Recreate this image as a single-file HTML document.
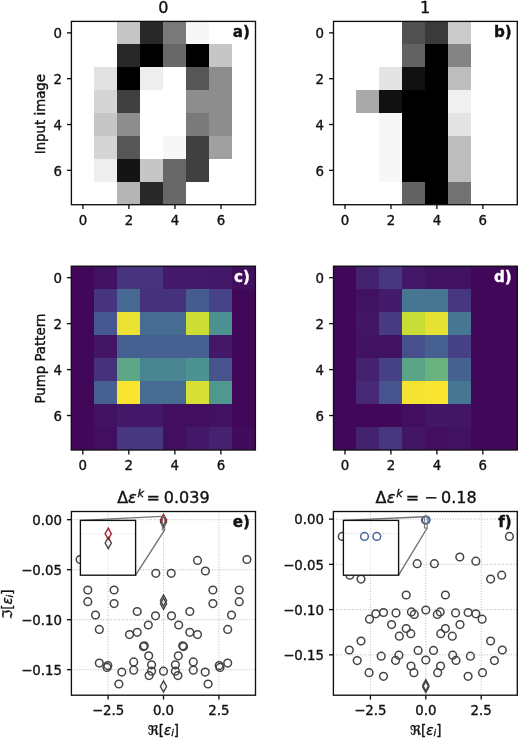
<!DOCTYPE html>
<html lang="en"><head><meta charset="utf-8"><title>Figure</title>
<style>html,body{margin:0;padding:0;background:#fff;}body{width:520px;height:738px;overflow:hidden;}svg{display:block;filter:blur(0.3px);}</style>
</head><body>
<svg width="520" height="738" viewBox="0 0 520 738" font-family='"DejaVu Sans", "Liberation Sans", sans-serif'>
<rect width="520" height="738" fill="#ffffff"/>
<g shape-rendering="crispEdges">
<rect x="71.40" y="21.40" width="23.31" height="23.21" fill="#ffffff"/>
<rect x="94.41" y="21.40" width="23.31" height="23.21" fill="#ffffff"/>
<rect x="117.43" y="21.40" width="23.31" height="23.21" fill="#c6c6c6"/>
<rect x="140.44" y="21.40" width="23.31" height="23.21" fill="#282828"/>
<rect x="163.45" y="21.40" width="23.31" height="23.21" fill="#7a7a7a"/>
<rect x="186.46" y="21.40" width="23.31" height="23.21" fill="#f7f7f7"/>
<rect x="209.47" y="21.40" width="23.31" height="23.21" fill="#ffffff"/>
<rect x="232.49" y="21.40" width="23.31" height="23.21" fill="#ffffff"/>
<rect x="71.40" y="44.31" width="23.31" height="23.21" fill="#ffffff"/>
<rect x="94.41" y="44.31" width="23.31" height="23.21" fill="#ffffff"/>
<rect x="117.43" y="44.31" width="23.31" height="23.21" fill="#282828"/>
<rect x="140.44" y="44.31" width="23.31" height="23.21" fill="#000000"/>
<rect x="163.45" y="44.31" width="23.31" height="23.21" fill="#686868"/>
<rect x="186.46" y="44.31" width="23.31" height="23.21" fill="#000000"/>
<rect x="209.47" y="44.31" width="23.31" height="23.21" fill="#c6c6c6"/>
<rect x="232.49" y="44.31" width="23.31" height="23.21" fill="#ffffff"/>
<rect x="71.40" y="67.22" width="23.31" height="23.21" fill="#ffffff"/>
<rect x="94.41" y="67.22" width="23.31" height="23.21" fill="#e2e2e2"/>
<rect x="117.43" y="67.22" width="23.31" height="23.21" fill="#000000"/>
<rect x="140.44" y="67.22" width="23.31" height="23.21" fill="#eeeeee"/>
<rect x="163.45" y="67.22" width="23.31" height="23.21" fill="#ffffff"/>
<rect x="186.46" y="67.22" width="23.31" height="23.21" fill="#565656"/>
<rect x="209.47" y="67.22" width="23.31" height="23.21" fill="#8d8d8d"/>
<rect x="232.49" y="67.22" width="23.31" height="23.21" fill="#ffffff"/>
<rect x="71.40" y="90.14" width="23.31" height="23.21" fill="#ffffff"/>
<rect x="94.41" y="90.14" width="23.31" height="23.21" fill="#d5d5d5"/>
<rect x="117.43" y="90.14" width="23.31" height="23.21" fill="#404040"/>
<rect x="140.44" y="90.14" width="23.31" height="23.21" fill="#ffffff"/>
<rect x="163.45" y="90.14" width="23.31" height="23.21" fill="#ffffff"/>
<rect x="186.46" y="90.14" width="23.31" height="23.21" fill="#8d8d8d"/>
<rect x="209.47" y="90.14" width="23.31" height="23.21" fill="#8d8d8d"/>
<rect x="232.49" y="90.14" width="23.31" height="23.21" fill="#ffffff"/>
<rect x="71.40" y="113.05" width="23.31" height="23.21" fill="#ffffff"/>
<rect x="94.41" y="113.05" width="23.31" height="23.21" fill="#c6c6c6"/>
<rect x="117.43" y="113.05" width="23.31" height="23.21" fill="#8d8d8d"/>
<rect x="140.44" y="113.05" width="23.31" height="23.21" fill="#ffffff"/>
<rect x="163.45" y="113.05" width="23.31" height="23.21" fill="#ffffff"/>
<rect x="186.46" y="113.05" width="23.31" height="23.21" fill="#7a7a7a"/>
<rect x="209.47" y="113.05" width="23.31" height="23.21" fill="#8d8d8d"/>
<rect x="232.49" y="113.05" width="23.31" height="23.21" fill="#ffffff"/>
<rect x="71.40" y="135.96" width="23.31" height="23.21" fill="#ffffff"/>
<rect x="94.41" y="135.96" width="23.31" height="23.21" fill="#d5d5d5"/>
<rect x="117.43" y="135.96" width="23.31" height="23.21" fill="#565656"/>
<rect x="140.44" y="135.96" width="23.31" height="23.21" fill="#ffffff"/>
<rect x="163.45" y="135.96" width="23.31" height="23.21" fill="#f7f7f7"/>
<rect x="186.46" y="135.96" width="23.31" height="23.21" fill="#404040"/>
<rect x="209.47" y="135.96" width="23.31" height="23.21" fill="#a0a0a0"/>
<rect x="232.49" y="135.96" width="23.31" height="23.21" fill="#ffffff"/>
<rect x="71.40" y="158.88" width="23.31" height="23.21" fill="#ffffff"/>
<rect x="94.41" y="158.88" width="23.31" height="23.21" fill="#eeeeee"/>
<rect x="117.43" y="158.88" width="23.31" height="23.21" fill="#141414"/>
<rect x="140.44" y="158.88" width="23.31" height="23.21" fill="#c6c6c6"/>
<rect x="163.45" y="158.88" width="23.31" height="23.21" fill="#686868"/>
<rect x="186.46" y="158.88" width="23.31" height="23.21" fill="#404040"/>
<rect x="209.47" y="158.88" width="23.31" height="23.21" fill="#ffffff"/>
<rect x="232.49" y="158.88" width="23.31" height="23.21" fill="#ffffff"/>
<rect x="71.40" y="181.79" width="23.31" height="23.21" fill="#ffffff"/>
<rect x="94.41" y="181.79" width="23.31" height="23.21" fill="#ffffff"/>
<rect x="117.43" y="181.79" width="23.31" height="23.21" fill="#b5b5b5"/>
<rect x="140.44" y="181.79" width="23.31" height="23.21" fill="#282828"/>
<rect x="163.45" y="181.79" width="23.31" height="23.21" fill="#686868"/>
<rect x="186.46" y="181.79" width="23.31" height="23.21" fill="#ffffff"/>
<rect x="209.47" y="181.79" width="23.31" height="23.21" fill="#ffffff"/>
<rect x="232.49" y="181.79" width="23.31" height="23.21" fill="#ffffff"/>
</g>
<rect x="71.40" y="21.40" width="184.10" height="183.30" fill="none" stroke="#111111" stroke-width="1.35"/>
<line x1="82.91" y1="204.70" x2="82.91" y2="209.10" stroke="#111111" stroke-width="1.35"/>
<text x="82.91" y="225.10" font-size="13.33" text-anchor="middle" font-weight="normal" fill="#111111" stroke="#111111" stroke-width="0.35" >0</text>
<line x1="71.40" y1="32.86" x2="67.00" y2="32.86" stroke="#111111" stroke-width="1.35"/>
<text x="62.00" y="38.16" font-size="13.33" text-anchor="end" font-weight="normal" fill="#111111" stroke="#111111" stroke-width="0.35" >0</text>
<line x1="128.93" y1="204.70" x2="128.93" y2="209.10" stroke="#111111" stroke-width="1.35"/>
<text x="128.93" y="225.10" font-size="13.33" text-anchor="middle" font-weight="normal" fill="#111111" stroke="#111111" stroke-width="0.35" >2</text>
<line x1="71.40" y1="78.68" x2="67.00" y2="78.68" stroke="#111111" stroke-width="1.35"/>
<text x="62.00" y="83.98" font-size="13.33" text-anchor="end" font-weight="normal" fill="#111111" stroke="#111111" stroke-width="0.35" >2</text>
<line x1="174.96" y1="204.70" x2="174.96" y2="209.10" stroke="#111111" stroke-width="1.35"/>
<text x="174.96" y="225.10" font-size="13.33" text-anchor="middle" font-weight="normal" fill="#111111" stroke="#111111" stroke-width="0.35" >4</text>
<line x1="71.40" y1="124.51" x2="67.00" y2="124.51" stroke="#111111" stroke-width="1.35"/>
<text x="62.00" y="129.81" font-size="13.33" text-anchor="end" font-weight="normal" fill="#111111" stroke="#111111" stroke-width="0.35" >4</text>
<line x1="220.98" y1="204.70" x2="220.98" y2="209.10" stroke="#111111" stroke-width="1.35"/>
<text x="220.98" y="225.10" font-size="13.33" text-anchor="middle" font-weight="normal" fill="#111111" stroke="#111111" stroke-width="0.35" >6</text>
<line x1="71.40" y1="170.33" x2="67.00" y2="170.33" stroke="#111111" stroke-width="1.35"/>
<text x="62.00" y="175.63" font-size="13.33" text-anchor="end" font-weight="normal" fill="#111111" stroke="#111111" stroke-width="0.35" >6</text>
<text x="250.00" y="37.30" font-size="15.2" text-anchor="end" font-weight="bold" fill="#111111" stroke="#111111" stroke-width="0.35" >a)</text>
<g shape-rendering="crispEdges">
<rect x="333.50" y="21.40" width="23.27" height="23.21" fill="#ffffff"/>
<rect x="356.48" y="21.40" width="23.27" height="23.21" fill="#ffffff"/>
<rect x="379.45" y="21.40" width="23.27" height="23.21" fill="#ffffff"/>
<rect x="402.42" y="21.40" width="23.27" height="23.21" fill="#515151"/>
<rect x="425.40" y="21.40" width="23.27" height="23.21" fill="#3a3a3a"/>
<rect x="448.38" y="21.40" width="23.27" height="23.21" fill="#cbcbcb"/>
<rect x="471.35" y="21.40" width="23.27" height="23.21" fill="#ffffff"/>
<rect x="494.32" y="21.40" width="23.27" height="23.21" fill="#ffffff"/>
<rect x="333.50" y="44.31" width="23.27" height="23.21" fill="#ffffff"/>
<rect x="356.48" y="44.31" width="23.27" height="23.21" fill="#ffffff"/>
<rect x="379.45" y="44.31" width="23.27" height="23.21" fill="#ffffff"/>
<rect x="402.42" y="44.31" width="23.27" height="23.21" fill="#626262"/>
<rect x="425.40" y="44.31" width="23.27" height="23.21" fill="#000000"/>
<rect x="448.38" y="44.31" width="23.27" height="23.21" fill="#848484"/>
<rect x="471.35" y="44.31" width="23.27" height="23.21" fill="#ffffff"/>
<rect x="494.32" y="44.31" width="23.27" height="23.21" fill="#ffffff"/>
<rect x="333.50" y="67.22" width="23.27" height="23.21" fill="#ffffff"/>
<rect x="356.48" y="67.22" width="23.27" height="23.21" fill="#ffffff"/>
<rect x="379.45" y="67.22" width="23.27" height="23.21" fill="#e4e4e4"/>
<rect x="402.42" y="67.22" width="23.27" height="23.21" fill="#111111"/>
<rect x="425.40" y="67.22" width="23.27" height="23.21" fill="#000000"/>
<rect x="448.38" y="67.22" width="23.27" height="23.21" fill="#bdbdbd"/>
<rect x="471.35" y="67.22" width="23.27" height="23.21" fill="#ffffff"/>
<rect x="494.32" y="67.22" width="23.27" height="23.21" fill="#ffffff"/>
<rect x="333.50" y="90.14" width="23.27" height="23.21" fill="#ffffff"/>
<rect x="356.48" y="90.14" width="23.27" height="23.21" fill="#a9a9a9"/>
<rect x="379.45" y="90.14" width="23.27" height="23.21" fill="#111111"/>
<rect x="402.42" y="90.14" width="23.27" height="23.21" fill="#000000"/>
<rect x="425.40" y="90.14" width="23.27" height="23.21" fill="#000000"/>
<rect x="448.38" y="90.14" width="23.27" height="23.21" fill="#f0f0f0"/>
<rect x="471.35" y="90.14" width="23.27" height="23.21" fill="#ffffff"/>
<rect x="494.32" y="90.14" width="23.27" height="23.21" fill="#ffffff"/>
<rect x="333.50" y="113.05" width="23.27" height="23.21" fill="#ffffff"/>
<rect x="356.48" y="113.05" width="23.27" height="23.21" fill="#ffffff"/>
<rect x="379.45" y="113.05" width="23.27" height="23.21" fill="#f7f7f7"/>
<rect x="402.42" y="113.05" width="23.27" height="23.21" fill="#000000"/>
<rect x="425.40" y="113.05" width="23.27" height="23.21" fill="#000000"/>
<rect x="448.38" y="113.05" width="23.27" height="23.21" fill="#e4e4e4"/>
<rect x="471.35" y="113.05" width="23.27" height="23.21" fill="#ffffff"/>
<rect x="494.32" y="113.05" width="23.27" height="23.21" fill="#ffffff"/>
<rect x="333.50" y="135.96" width="23.27" height="23.21" fill="#ffffff"/>
<rect x="356.48" y="135.96" width="23.27" height="23.21" fill="#ffffff"/>
<rect x="379.45" y="135.96" width="23.27" height="23.21" fill="#f7f7f7"/>
<rect x="402.42" y="135.96" width="23.27" height="23.21" fill="#000000"/>
<rect x="425.40" y="135.96" width="23.27" height="23.21" fill="#000000"/>
<rect x="448.38" y="135.96" width="23.27" height="23.21" fill="#bdbdbd"/>
<rect x="471.35" y="135.96" width="23.27" height="23.21" fill="#ffffff"/>
<rect x="494.32" y="135.96" width="23.27" height="23.21" fill="#ffffff"/>
<rect x="333.50" y="158.88" width="23.27" height="23.21" fill="#ffffff"/>
<rect x="356.48" y="158.88" width="23.27" height="23.21" fill="#ffffff"/>
<rect x="379.45" y="158.88" width="23.27" height="23.21" fill="#f7f7f7"/>
<rect x="402.42" y="158.88" width="23.27" height="23.21" fill="#000000"/>
<rect x="425.40" y="158.88" width="23.27" height="23.21" fill="#000000"/>
<rect x="448.38" y="158.88" width="23.27" height="23.21" fill="#bdbdbd"/>
<rect x="471.35" y="158.88" width="23.27" height="23.21" fill="#ffffff"/>
<rect x="494.32" y="158.88" width="23.27" height="23.21" fill="#ffffff"/>
<rect x="333.50" y="181.79" width="23.27" height="23.21" fill="#ffffff"/>
<rect x="356.48" y="181.79" width="23.27" height="23.21" fill="#ffffff"/>
<rect x="379.45" y="181.79" width="23.27" height="23.21" fill="#ffffff"/>
<rect x="402.42" y="181.79" width="23.27" height="23.21" fill="#626262"/>
<rect x="425.40" y="181.79" width="23.27" height="23.21" fill="#000000"/>
<rect x="448.38" y="181.79" width="23.27" height="23.21" fill="#727272"/>
<rect x="471.35" y="181.79" width="23.27" height="23.21" fill="#ffffff"/>
<rect x="494.32" y="181.79" width="23.27" height="23.21" fill="#ffffff"/>
</g>
<rect x="333.50" y="21.40" width="183.80" height="183.30" fill="none" stroke="#111111" stroke-width="1.35"/>
<line x1="344.99" y1="204.70" x2="344.99" y2="209.10" stroke="#111111" stroke-width="1.35"/>
<text x="344.99" y="225.10" font-size="13.33" text-anchor="middle" font-weight="normal" fill="#111111" stroke="#111111" stroke-width="0.35" >0</text>
<line x1="333.50" y1="32.86" x2="329.10" y2="32.86" stroke="#111111" stroke-width="1.35"/>
<text x="324.10" y="38.16" font-size="13.33" text-anchor="end" font-weight="normal" fill="#111111" stroke="#111111" stroke-width="0.35" >0</text>
<line x1="390.94" y1="204.70" x2="390.94" y2="209.10" stroke="#111111" stroke-width="1.35"/>
<text x="390.94" y="225.10" font-size="13.33" text-anchor="middle" font-weight="normal" fill="#111111" stroke="#111111" stroke-width="0.35" >2</text>
<line x1="333.50" y1="78.68" x2="329.10" y2="78.68" stroke="#111111" stroke-width="1.35"/>
<text x="324.10" y="83.98" font-size="13.33" text-anchor="end" font-weight="normal" fill="#111111" stroke="#111111" stroke-width="0.35" >2</text>
<line x1="436.89" y1="204.70" x2="436.89" y2="209.10" stroke="#111111" stroke-width="1.35"/>
<text x="436.89" y="225.10" font-size="13.33" text-anchor="middle" font-weight="normal" fill="#111111" stroke="#111111" stroke-width="0.35" >4</text>
<line x1="333.50" y1="124.51" x2="329.10" y2="124.51" stroke="#111111" stroke-width="1.35"/>
<text x="324.10" y="129.81" font-size="13.33" text-anchor="end" font-weight="normal" fill="#111111" stroke="#111111" stroke-width="0.35" >4</text>
<line x1="482.84" y1="204.70" x2="482.84" y2="209.10" stroke="#111111" stroke-width="1.35"/>
<text x="482.84" y="225.10" font-size="13.33" text-anchor="middle" font-weight="normal" fill="#111111" stroke="#111111" stroke-width="0.35" >6</text>
<line x1="333.50" y1="170.33" x2="329.10" y2="170.33" stroke="#111111" stroke-width="1.35"/>
<text x="324.10" y="175.63" font-size="13.33" text-anchor="end" font-weight="normal" fill="#111111" stroke="#111111" stroke-width="0.35" >6</text>
<text x="511.80" y="37.30" font-size="15.2" text-anchor="end" font-weight="bold" fill="#111111" stroke="#111111" stroke-width="0.35" >b)</text>
<text x="163.25" y="13.20" font-size="16.0" text-anchor="middle" font-weight="normal" fill="#111111" stroke="#111111" stroke-width="0.35" >0</text>
<text x="425.20" y="13.20" font-size="16.0" text-anchor="middle" font-weight="normal" fill="#111111" stroke="#111111" stroke-width="0.35" >1</text>
<text transform="translate(44.50,114.15) rotate(-90)" font-size="13.33" text-anchor="middle" fill="#111111" stroke="#111111" stroke-width="0.35">Input image</text>
<g shape-rendering="crispEdges">
<rect x="71.30" y="266.20" width="23.31" height="23.28" fill="#41085a"/>
<rect x="94.31" y="266.20" width="23.31" height="23.28" fill="#421262"/>
<rect x="117.33" y="266.20" width="23.31" height="23.28" fill="#46347e"/>
<rect x="140.34" y="266.20" width="23.31" height="23.28" fill="#46347e"/>
<rect x="163.35" y="266.20" width="23.31" height="23.28" fill="#441b6b"/>
<rect x="186.36" y="266.20" width="23.31" height="23.28" fill="#441b6b"/>
<rect x="209.38" y="266.20" width="23.31" height="23.28" fill="#441868"/>
<rect x="232.39" y="266.20" width="23.31" height="23.28" fill="#420e60"/>
<rect x="71.30" y="289.18" width="23.31" height="23.28" fill="#41085a"/>
<rect x="94.31" y="289.18" width="23.31" height="23.28" fill="#46347e"/>
<rect x="117.33" y="289.18" width="23.31" height="23.28" fill="#466a91"/>
<rect x="140.34" y="289.18" width="23.31" height="23.28" fill="#46317c"/>
<rect x="163.35" y="289.18" width="23.31" height="23.28" fill="#46317c"/>
<rect x="186.36" y="289.18" width="23.31" height="23.28" fill="#465b90"/>
<rect x="209.38" y="289.18" width="23.31" height="23.28" fill="#464388"/>
<rect x="232.39" y="289.18" width="23.31" height="23.28" fill="#41085a"/>
<rect x="71.30" y="312.15" width="23.31" height="23.28" fill="#41085a"/>
<rect x="94.31" y="312.15" width="23.31" height="23.28" fill="#46588f"/>
<rect x="117.33" y="312.15" width="23.31" height="23.28" fill="#ebe234"/>
<rect x="140.34" y="312.15" width="23.31" height="23.28" fill="#466c92"/>
<rect x="163.35" y="312.15" width="23.31" height="23.28" fill="#466c92"/>
<rect x="186.36" y="312.15" width="23.31" height="23.28" fill="#cddf37"/>
<rect x="209.38" y="312.15" width="23.31" height="23.28" fill="#4b9290"/>
<rect x="232.39" y="312.15" width="23.31" height="23.28" fill="#41085a"/>
<rect x="71.30" y="335.12" width="23.31" height="23.28" fill="#41085a"/>
<rect x="94.31" y="335.12" width="23.31" height="23.28" fill="#431565"/>
<rect x="117.33" y="335.12" width="23.31" height="23.28" fill="#466091"/>
<rect x="140.34" y="335.12" width="23.31" height="23.28" fill="#466091"/>
<rect x="163.35" y="335.12" width="23.31" height="23.28" fill="#466091"/>
<rect x="186.36" y="335.12" width="23.31" height="23.28" fill="#466091"/>
<rect x="209.38" y="335.12" width="23.31" height="23.28" fill="#441868"/>
<rect x="232.39" y="335.12" width="23.31" height="23.28" fill="#41085a"/>
<rect x="71.30" y="358.10" width="23.31" height="23.28" fill="#41085a"/>
<rect x="94.31" y="358.10" width="23.31" height="23.28" fill="#46317c"/>
<rect x="117.33" y="358.10" width="23.31" height="23.28" fill="#5da786"/>
<rect x="140.34" y="358.10" width="23.31" height="23.28" fill="#488591"/>
<rect x="163.35" y="358.10" width="23.31" height="23.28" fill="#488591"/>
<rect x="186.36" y="358.10" width="23.31" height="23.28" fill="#4b9290"/>
<rect x="209.38" y="358.10" width="23.31" height="23.28" fill="#46538d"/>
<rect x="232.39" y="358.10" width="23.31" height="23.28" fill="#41085a"/>
<rect x="71.30" y="381.07" width="23.31" height="23.28" fill="#41085a"/>
<rect x="94.31" y="381.07" width="23.31" height="23.28" fill="#466091"/>
<rect x="117.33" y="381.07" width="23.31" height="23.28" fill="#fae432"/>
<rect x="140.34" y="381.07" width="23.31" height="23.28" fill="#466c92"/>
<rect x="163.35" y="381.07" width="23.31" height="23.28" fill="#466c92"/>
<rect x="186.36" y="381.07" width="23.31" height="23.28" fill="#d7e036"/>
<rect x="209.38" y="381.07" width="23.31" height="23.28" fill="#50978e"/>
<rect x="232.39" y="381.07" width="23.31" height="23.28" fill="#41085a"/>
<rect x="71.30" y="404.05" width="23.31" height="23.28" fill="#41085a"/>
<rect x="94.31" y="404.05" width="23.31" height="23.28" fill="#421262"/>
<rect x="117.33" y="404.05" width="23.31" height="23.28" fill="#441868"/>
<rect x="140.34" y="404.05" width="23.31" height="23.28" fill="#441868"/>
<rect x="163.35" y="404.05" width="23.31" height="23.28" fill="#420e60"/>
<rect x="186.36" y="404.05" width="23.31" height="23.28" fill="#420e60"/>
<rect x="209.38" y="404.05" width="23.31" height="23.28" fill="#421262"/>
<rect x="232.39" y="404.05" width="23.31" height="23.28" fill="#41085a"/>
<rect x="71.30" y="427.02" width="23.31" height="23.28" fill="#41085a"/>
<rect x="94.31" y="427.02" width="23.31" height="23.28" fill="#420e60"/>
<rect x="117.33" y="427.02" width="23.31" height="23.28" fill="#463780"/>
<rect x="140.34" y="427.02" width="23.31" height="23.28" fill="#463780"/>
<rect x="163.35" y="427.02" width="23.31" height="23.28" fill="#420e60"/>
<rect x="186.36" y="427.02" width="23.31" height="23.28" fill="#441868"/>
<rect x="209.38" y="427.02" width="23.31" height="23.28" fill="#452270"/>
<rect x="232.39" y="427.02" width="23.31" height="23.28" fill="#420b5d"/>
</g>
<rect x="71.30" y="266.20" width="184.10" height="183.80" fill="none" stroke="#111111" stroke-width="1.35"/>
<line x1="82.81" y1="450.00" x2="82.81" y2="454.40" stroke="#111111" stroke-width="1.35"/>
<text x="82.81" y="470.10" font-size="13.33" text-anchor="middle" font-weight="normal" fill="#111111" stroke="#111111" stroke-width="0.35" >0</text>
<line x1="71.30" y1="277.69" x2="66.90" y2="277.69" stroke="#111111" stroke-width="1.35"/>
<text x="61.90" y="282.99" font-size="13.33" text-anchor="end" font-weight="normal" fill="#111111" stroke="#111111" stroke-width="0.35" >0</text>
<line x1="128.83" y1="450.00" x2="128.83" y2="454.40" stroke="#111111" stroke-width="1.35"/>
<text x="128.83" y="470.10" font-size="13.33" text-anchor="middle" font-weight="normal" fill="#111111" stroke="#111111" stroke-width="0.35" >2</text>
<line x1="71.30" y1="323.64" x2="66.90" y2="323.64" stroke="#111111" stroke-width="1.35"/>
<text x="61.90" y="328.94" font-size="13.33" text-anchor="end" font-weight="normal" fill="#111111" stroke="#111111" stroke-width="0.35" >2</text>
<line x1="174.86" y1="450.00" x2="174.86" y2="454.40" stroke="#111111" stroke-width="1.35"/>
<text x="174.86" y="470.10" font-size="13.33" text-anchor="middle" font-weight="normal" fill="#111111" stroke="#111111" stroke-width="0.35" >4</text>
<line x1="71.30" y1="369.59" x2="66.90" y2="369.59" stroke="#111111" stroke-width="1.35"/>
<text x="61.90" y="374.89" font-size="13.33" text-anchor="end" font-weight="normal" fill="#111111" stroke="#111111" stroke-width="0.35" >4</text>
<line x1="220.88" y1="450.00" x2="220.88" y2="454.40" stroke="#111111" stroke-width="1.35"/>
<text x="220.88" y="470.10" font-size="13.33" text-anchor="middle" font-weight="normal" fill="#111111" stroke="#111111" stroke-width="0.35" >6</text>
<line x1="71.30" y1="415.54" x2="66.90" y2="415.54" stroke="#111111" stroke-width="1.35"/>
<text x="61.90" y="420.84" font-size="13.33" text-anchor="end" font-weight="normal" fill="#111111" stroke="#111111" stroke-width="0.35" >6</text>
<text x="249.90" y="282.10" font-size="15.2" text-anchor="end" font-weight="bold" fill="#ffffff" stroke="#ffffff" stroke-width="0.35" >c)</text>
<g shape-rendering="crispEdges">
<rect x="333.50" y="266.20" width="23.27" height="23.28" fill="#41085a"/>
<rect x="356.48" y="266.20" width="23.27" height="23.28" fill="#452270"/>
<rect x="379.45" y="266.20" width="23.27" height="23.28" fill="#463780"/>
<rect x="402.42" y="266.20" width="23.27" height="23.28" fill="#441868"/>
<rect x="425.40" y="266.20" width="23.27" height="23.28" fill="#421262"/>
<rect x="448.38" y="266.20" width="23.27" height="23.28" fill="#421262"/>
<rect x="471.35" y="266.20" width="23.27" height="23.28" fill="#41085a"/>
<rect x="494.32" y="266.20" width="23.27" height="23.28" fill="#41085a"/>
<rect x="333.50" y="289.18" width="23.27" height="23.28" fill="#41085a"/>
<rect x="356.48" y="289.18" width="23.27" height="23.28" fill="#421262"/>
<rect x="379.45" y="289.18" width="23.27" height="23.28" fill="#441b6b"/>
<rect x="402.42" y="289.18" width="23.27" height="23.28" fill="#467692"/>
<rect x="425.40" y="289.18" width="23.27" height="23.28" fill="#467692"/>
<rect x="448.38" y="289.18" width="23.27" height="23.28" fill="#463780"/>
<rect x="471.35" y="289.18" width="23.27" height="23.28" fill="#41085a"/>
<rect x="494.32" y="289.18" width="23.27" height="23.28" fill="#41085a"/>
<rect x="333.50" y="312.15" width="23.27" height="23.28" fill="#41085a"/>
<rect x="356.48" y="312.15" width="23.27" height="23.28" fill="#431565"/>
<rect x="379.45" y="312.15" width="23.27" height="23.28" fill="#463a82"/>
<rect x="402.42" y="312.15" width="23.27" height="23.28" fill="#c8de37"/>
<rect x="425.40" y="312.15" width="23.27" height="23.28" fill="#e6e234"/>
<rect x="448.38" y="312.15" width="23.27" height="23.28" fill="#467692"/>
<rect x="471.35" y="312.15" width="23.27" height="23.28" fill="#41085a"/>
<rect x="494.32" y="312.15" width="23.27" height="23.28" fill="#41085a"/>
<rect x="333.50" y="335.12" width="23.27" height="23.28" fill="#41085a"/>
<rect x="356.48" y="335.12" width="23.27" height="23.28" fill="#421262"/>
<rect x="379.45" y="335.12" width="23.27" height="23.28" fill="#421262"/>
<rect x="402.42" y="335.12" width="23.27" height="23.28" fill="#46508d"/>
<rect x="425.40" y="335.12" width="23.27" height="23.28" fill="#466091"/>
<rect x="448.38" y="335.12" width="23.27" height="23.28" fill="#464086"/>
<rect x="471.35" y="335.12" width="23.27" height="23.28" fill="#41085a"/>
<rect x="494.32" y="335.12" width="23.27" height="23.28" fill="#41085a"/>
<rect x="333.50" y="358.10" width="23.27" height="23.28" fill="#41085a"/>
<rect x="356.48" y="358.10" width="23.27" height="23.28" fill="#452270"/>
<rect x="379.45" y="358.10" width="23.27" height="23.28" fill="#464086"/>
<rect x="402.42" y="358.10" width="23.27" height="23.28" fill="#5ba488"/>
<rect x="425.40" y="358.10" width="23.27" height="23.28" fill="#69b27f"/>
<rect x="448.38" y="358.10" width="23.27" height="23.28" fill="#466291"/>
<rect x="471.35" y="358.10" width="23.27" height="23.28" fill="#41085a"/>
<rect x="494.32" y="358.10" width="23.27" height="23.28" fill="#41085a"/>
<rect x="333.50" y="381.07" width="23.27" height="23.28" fill="#41085a"/>
<rect x="356.48" y="381.07" width="23.27" height="23.28" fill="#462876"/>
<rect x="379.45" y="381.07" width="23.27" height="23.28" fill="#46538d"/>
<rect x="402.42" y="381.07" width="23.27" height="23.28" fill="#f5e332"/>
<rect x="425.40" y="381.07" width="23.27" height="23.28" fill="#fae432"/>
<rect x="448.38" y="381.07" width="23.27" height="23.28" fill="#467692"/>
<rect x="471.35" y="381.07" width="23.27" height="23.28" fill="#41085a"/>
<rect x="494.32" y="381.07" width="23.27" height="23.28" fill="#41085a"/>
<rect x="333.50" y="404.05" width="23.27" height="23.28" fill="#41085a"/>
<rect x="356.48" y="404.05" width="23.27" height="23.28" fill="#41085a"/>
<rect x="379.45" y="404.05" width="23.27" height="23.28" fill="#41085a"/>
<rect x="402.42" y="404.05" width="23.27" height="23.28" fill="#420e60"/>
<rect x="425.40" y="404.05" width="23.27" height="23.28" fill="#431565"/>
<rect x="448.38" y="404.05" width="23.27" height="23.28" fill="#431565"/>
<rect x="471.35" y="404.05" width="23.27" height="23.28" fill="#41085a"/>
<rect x="494.32" y="404.05" width="23.27" height="23.28" fill="#41085a"/>
<rect x="333.50" y="427.02" width="23.27" height="23.28" fill="#41085a"/>
<rect x="356.48" y="427.02" width="23.27" height="23.28" fill="#452270"/>
<rect x="379.45" y="427.02" width="23.27" height="23.28" fill="#463780"/>
<rect x="402.42" y="427.02" width="23.27" height="23.28" fill="#431565"/>
<rect x="425.40" y="427.02" width="23.27" height="23.28" fill="#420e60"/>
<rect x="448.38" y="427.02" width="23.27" height="23.28" fill="#421262"/>
<rect x="471.35" y="427.02" width="23.27" height="23.28" fill="#41085a"/>
<rect x="494.32" y="427.02" width="23.27" height="23.28" fill="#41085a"/>
</g>
<rect x="333.50" y="266.20" width="183.80" height="183.80" fill="none" stroke="#111111" stroke-width="1.35"/>
<line x1="344.99" y1="450.00" x2="344.99" y2="454.40" stroke="#111111" stroke-width="1.35"/>
<text x="344.99" y="470.10" font-size="13.33" text-anchor="middle" font-weight="normal" fill="#111111" stroke="#111111" stroke-width="0.35" >0</text>
<line x1="333.50" y1="277.69" x2="329.10" y2="277.69" stroke="#111111" stroke-width="1.35"/>
<text x="324.10" y="282.99" font-size="13.33" text-anchor="end" font-weight="normal" fill="#111111" stroke="#111111" stroke-width="0.35" >0</text>
<line x1="390.94" y1="450.00" x2="390.94" y2="454.40" stroke="#111111" stroke-width="1.35"/>
<text x="390.94" y="470.10" font-size="13.33" text-anchor="middle" font-weight="normal" fill="#111111" stroke="#111111" stroke-width="0.35" >2</text>
<line x1="333.50" y1="323.64" x2="329.10" y2="323.64" stroke="#111111" stroke-width="1.35"/>
<text x="324.10" y="328.94" font-size="13.33" text-anchor="end" font-weight="normal" fill="#111111" stroke="#111111" stroke-width="0.35" >2</text>
<line x1="436.89" y1="450.00" x2="436.89" y2="454.40" stroke="#111111" stroke-width="1.35"/>
<text x="436.89" y="470.10" font-size="13.33" text-anchor="middle" font-weight="normal" fill="#111111" stroke="#111111" stroke-width="0.35" >4</text>
<line x1="333.50" y1="369.59" x2="329.10" y2="369.59" stroke="#111111" stroke-width="1.35"/>
<text x="324.10" y="374.89" font-size="13.33" text-anchor="end" font-weight="normal" fill="#111111" stroke="#111111" stroke-width="0.35" >4</text>
<line x1="482.84" y1="450.00" x2="482.84" y2="454.40" stroke="#111111" stroke-width="1.35"/>
<text x="482.84" y="470.10" font-size="13.33" text-anchor="middle" font-weight="normal" fill="#111111" stroke="#111111" stroke-width="0.35" >6</text>
<line x1="333.50" y1="415.54" x2="329.10" y2="415.54" stroke="#111111" stroke-width="1.35"/>
<text x="324.10" y="420.84" font-size="13.33" text-anchor="end" font-weight="normal" fill="#111111" stroke="#111111" stroke-width="0.35" >6</text>
<text x="511.80" y="282.10" font-size="15.2" text-anchor="end" font-weight="bold" fill="#ffffff" stroke="#ffffff" stroke-width="0.35" >d)</text>
<text transform="translate(44.50,358.60) rotate(-90)" font-size="13.33" text-anchor="middle" fill="#111111" stroke="#111111" stroke-width="0.35">Pump Pattern</text>
<rect x="71.40" y="511.50" width="184.10" height="183.70" fill="#ffffff"/>
<line x1="108.10" y1="511.50" x2="108.10" y2="695.20" stroke="#b8b8b8" stroke-width="1" stroke-dasharray="1 1.65"/>
<line x1="163.50" y1="511.50" x2="163.50" y2="695.20" stroke="#b8b8b8" stroke-width="1" stroke-dasharray="1 1.65"/>
<line x1="218.90" y1="511.50" x2="218.90" y2="695.20" stroke="#b8b8b8" stroke-width="1" stroke-dasharray="1 1.65"/>
<line x1="71.40" y1="519.70" x2="255.50" y2="519.70" stroke="#b8b8b8" stroke-width="1" stroke-dasharray="1 1.65"/>
<line x1="71.40" y1="569.70" x2="255.50" y2="569.70" stroke="#b8b8b8" stroke-width="1" stroke-dasharray="1 1.65"/>
<line x1="71.40" y1="619.70" x2="255.50" y2="619.70" stroke="#b8b8b8" stroke-width="1" stroke-dasharray="1 1.65"/>
<line x1="71.40" y1="669.70" x2="255.50" y2="669.70" stroke="#b8b8b8" stroke-width="1" stroke-dasharray="1 1.65"/>
<clipPath id="ce"><rect x="71.4" y="511.5" width="184.1" height="183.70000000000005"/></clipPath><g clip-path="url(#ce)">
<circle cx="171.20" cy="573.30" r="3.85" fill="none" stroke="#444444" stroke-width="1.5"/>
<circle cx="155.80" cy="573.30" r="3.85" fill="none" stroke="#444444" stroke-width="1.5"/>
<circle cx="197.50" cy="560.40" r="3.85" fill="none" stroke="#444444" stroke-width="1.5"/>
<circle cx="129.50" cy="560.40" r="3.85" fill="none" stroke="#444444" stroke-width="1.5"/>
<circle cx="205.40" cy="571.00" r="3.85" fill="none" stroke="#444444" stroke-width="1.5"/>
<circle cx="121.60" cy="571.00" r="3.85" fill="none" stroke="#444444" stroke-width="1.5"/>
<circle cx="246.90" cy="559.50" r="3.85" fill="none" stroke="#444444" stroke-width="1.5"/>
<circle cx="80.10" cy="559.50" r="3.85" fill="none" stroke="#444444" stroke-width="1.5"/>
<circle cx="212.90" cy="590.00" r="3.85" fill="none" stroke="#444444" stroke-width="1.5"/>
<circle cx="114.10" cy="590.00" r="3.85" fill="none" stroke="#444444" stroke-width="1.5"/>
<circle cx="239.20" cy="590.00" r="3.85" fill="none" stroke="#444444" stroke-width="1.5"/>
<circle cx="87.80" cy="590.00" r="3.85" fill="none" stroke="#444444" stroke-width="1.5"/>
<circle cx="212.90" cy="603.60" r="3.85" fill="none" stroke="#444444" stroke-width="1.5"/>
<circle cx="114.10" cy="603.60" r="3.85" fill="none" stroke="#444444" stroke-width="1.5"/>
<circle cx="239.20" cy="601.70" r="3.85" fill="none" stroke="#444444" stroke-width="1.5"/>
<circle cx="87.80" cy="601.70" r="3.85" fill="none" stroke="#444444" stroke-width="1.5"/>
<circle cx="189.80" cy="611.50" r="3.85" fill="none" stroke="#444444" stroke-width="1.5"/>
<circle cx="137.20" cy="611.50" r="3.85" fill="none" stroke="#444444" stroke-width="1.5"/>
<circle cx="171.50" cy="615.80" r="3.85" fill="none" stroke="#444444" stroke-width="1.5"/>
<circle cx="155.50" cy="615.80" r="3.85" fill="none" stroke="#444444" stroke-width="1.5"/>
<circle cx="231.50" cy="615.00" r="3.85" fill="none" stroke="#444444" stroke-width="1.5"/>
<circle cx="95.50" cy="615.00" r="3.85" fill="none" stroke="#444444" stroke-width="1.5"/>
<circle cx="178.70" cy="625.00" r="3.85" fill="none" stroke="#444444" stroke-width="1.5"/>
<circle cx="148.30" cy="625.00" r="3.85" fill="none" stroke="#444444" stroke-width="1.5"/>
<circle cx="227.70" cy="629.40" r="3.85" fill="none" stroke="#444444" stroke-width="1.5"/>
<circle cx="99.30" cy="629.40" r="3.85" fill="none" stroke="#444444" stroke-width="1.5"/>
<circle cx="189.80" cy="632.30" r="3.85" fill="none" stroke="#444444" stroke-width="1.5"/>
<circle cx="137.20" cy="632.30" r="3.85" fill="none" stroke="#444444" stroke-width="1.5"/>
<circle cx="197.50" cy="634.60" r="3.85" fill="none" stroke="#444444" stroke-width="1.5"/>
<circle cx="129.50" cy="634.60" r="3.85" fill="none" stroke="#444444" stroke-width="1.5"/>
<circle cx="182.70" cy="645.80" r="3.85" fill="none" stroke="#444444" stroke-width="1.5"/>
<circle cx="144.30" cy="645.80" r="3.85" fill="none" stroke="#444444" stroke-width="1.5"/>
<circle cx="183.50" cy="646.60" r="3.85" fill="none" stroke="#444444" stroke-width="1.5"/>
<circle cx="143.50" cy="646.60" r="3.85" fill="none" stroke="#444444" stroke-width="1.5"/>
<circle cx="178.30" cy="655.80" r="3.85" fill="none" stroke="#444444" stroke-width="1.5"/>
<circle cx="148.70" cy="655.80" r="3.85" fill="none" stroke="#444444" stroke-width="1.5"/>
<circle cx="193.30" cy="661.90" r="3.85" fill="none" stroke="#444444" stroke-width="1.5"/>
<circle cx="133.70" cy="661.90" r="3.85" fill="none" stroke="#444444" stroke-width="1.5"/>
<circle cx="175.40" cy="664.80" r="3.85" fill="none" stroke="#444444" stroke-width="1.5"/>
<circle cx="151.60" cy="664.80" r="3.85" fill="none" stroke="#444444" stroke-width="1.5"/>
<circle cx="227.70" cy="663.10" r="3.85" fill="none" stroke="#444444" stroke-width="1.5"/>
<circle cx="99.30" cy="663.10" r="3.85" fill="none" stroke="#444444" stroke-width="1.5"/>
<circle cx="219.20" cy="665.60" r="3.85" fill="none" stroke="#444444" stroke-width="1.5"/>
<circle cx="107.80" cy="665.60" r="3.85" fill="none" stroke="#444444" stroke-width="1.5"/>
<circle cx="220.00" cy="667.40" r="3.85" fill="none" stroke="#444444" stroke-width="1.5"/>
<circle cx="107.00" cy="667.40" r="3.85" fill="none" stroke="#444444" stroke-width="1.5"/>
<circle cx="193.30" cy="670.20" r="3.85" fill="none" stroke="#444444" stroke-width="1.5"/>
<circle cx="133.70" cy="670.20" r="3.85" fill="none" stroke="#444444" stroke-width="1.5"/>
<circle cx="175.40" cy="671.20" r="3.85" fill="none" stroke="#444444" stroke-width="1.5"/>
<circle cx="151.60" cy="671.20" r="3.85" fill="none" stroke="#444444" stroke-width="1.5"/>
<circle cx="205.20" cy="672.10" r="3.85" fill="none" stroke="#444444" stroke-width="1.5"/>
<circle cx="121.80" cy="672.10" r="3.85" fill="none" stroke="#444444" stroke-width="1.5"/>
<circle cx="177.90" cy="675.60" r="3.85" fill="none" stroke="#444444" stroke-width="1.5"/>
<circle cx="149.10" cy="675.60" r="3.85" fill="none" stroke="#444444" stroke-width="1.5"/>
<circle cx="208.10" cy="684.00" r="3.85" fill="none" stroke="#444444" stroke-width="1.5"/>
<circle cx="118.90" cy="684.00" r="3.85" fill="none" stroke="#444444" stroke-width="1.5"/>
<circle cx="163.50" cy="671.20" r="3.85" fill="none" stroke="#444444" stroke-width="1.5"/>
<path d="M163.50 594.90 L166.60 600.50 L163.50 606.10 L160.40 600.50 Z" fill="none" stroke="#444444" stroke-width="1.4" stroke-linejoin="miter"/>
<path d="M163.50 598.20 L166.60 603.80 L163.50 609.40 L160.40 603.80 Z" fill="none" stroke="#444444" stroke-width="1.4" stroke-linejoin="miter"/>
<path d="M163.50 680.90 L166.60 686.50 L163.50 692.10 L160.40 686.50 Z" fill="none" stroke="#444444" stroke-width="1.4" stroke-linejoin="miter"/>
<path d="M163.50 516.40 L166.60 522.00 L163.50 527.60 L160.40 522.00 Z" fill="none" stroke="#444444" stroke-width="1.4" stroke-linejoin="miter"/>
<path d="M163.50 514.40 L166.60 520.00 L163.50 525.60 L160.40 520.00 Z" fill="none" stroke="#a81c2c" stroke-width="1.4" stroke-linejoin="miter"/>
</g>
<rect x="162.30" y="516.4" width="2.4" height="13.4" fill="none" stroke="#737373" stroke-width="1"/>
<line x1="80.4" y1="520.4" x2="162.30" y2="516.4" stroke="#737373" stroke-width="1.4"/>
<line x1="135.6" y1="575.2" x2="164.70" y2="529.8" stroke="#737373" stroke-width="1.4"/>
<rect x="80.40" y="520.40" width="55.20" height="54.80" fill="#ffffff" stroke="none"/>
<line x1="108.25" y1="520.40" x2="108.25" y2="575.20" stroke="#d4d4d4" stroke-width="1" stroke-dasharray="1 1.65"/>
<line x1="80.40" y1="533.75" x2="135.60" y2="533.75" stroke="#d4d4d4" stroke-width="1" stroke-dasharray="1 1.65"/>
<path d="M108.25 537.40 L111.35 543.00 L108.25 548.60 L105.15 543.00 Z" fill="none" stroke="#444444" stroke-width="1.4" stroke-linejoin="miter"/>
<path d="M108.25 528.15 L111.35 533.75 L108.25 539.35 L105.15 533.75 Z" fill="none" stroke="#a81c2c" stroke-width="1.4" stroke-linejoin="miter"/>
<rect x="80.40" y="520.40" width="55.20" height="54.80" fill="none" stroke="#111111" stroke-width="1.35"/>
<rect x="71.40" y="511.50" width="184.10" height="183.70" fill="none" stroke="#111111" stroke-width="1.35"/>
<line x1="108.10" y1="695.20" x2="108.10" y2="699.60" stroke="#111111" stroke-width="1.35"/>
<text x="108.10" y="714.80" font-size="13.33" text-anchor="middle" font-weight="normal" fill="#111111" stroke="#111111" stroke-width="0.35" >−2.5</text>
<line x1="163.50" y1="695.20" x2="163.50" y2="699.60" stroke="#111111" stroke-width="1.35"/>
<text x="163.50" y="714.80" font-size="13.33" text-anchor="middle" font-weight="normal" fill="#111111" stroke="#111111" stroke-width="0.35" >0.0</text>
<line x1="218.90" y1="695.20" x2="218.90" y2="699.60" stroke="#111111" stroke-width="1.35"/>
<text x="218.90" y="714.80" font-size="13.33" text-anchor="middle" font-weight="normal" fill="#111111" stroke="#111111" stroke-width="0.35" >2.5</text>
<line x1="71.40" y1="519.70" x2="67.00" y2="519.70" stroke="#111111" stroke-width="1.35"/>
<text x="62.00" y="525.00" font-size="13.33" text-anchor="end" font-weight="normal" fill="#111111" stroke="#111111" stroke-width="0.35" >0.00</text>
<line x1="71.40" y1="569.70" x2="67.00" y2="569.70" stroke="#111111" stroke-width="1.35"/>
<text x="62.00" y="575.00" font-size="13.33" text-anchor="end" font-weight="normal" fill="#111111" stroke="#111111" stroke-width="0.35" >−0.05</text>
<line x1="71.40" y1="619.70" x2="67.00" y2="619.70" stroke="#111111" stroke-width="1.35"/>
<text x="62.00" y="625.00" font-size="13.33" text-anchor="end" font-weight="normal" fill="#111111" stroke="#111111" stroke-width="0.35" >−0.10</text>
<line x1="71.40" y1="669.70" x2="67.00" y2="669.70" stroke="#111111" stroke-width="1.35"/>
<text x="62.00" y="675.00" font-size="13.33" text-anchor="end" font-weight="normal" fill="#111111" stroke="#111111" stroke-width="0.35" >−0.15</text>
<text x="250.00" y="527.40" font-size="15.2" text-anchor="end" font-weight="bold" fill="#111111" stroke="#111111" stroke-width="0.35" >e)</text>
<text transform="translate(117.20,503.00) scale(1.0,1)" font-size="16.0" font-style="normal" text-anchor="start" fill="#111111" stroke="#111111" stroke-width="0.35">Δ</text>
<text transform="translate(128.00,503.00) scale(1.0,1)" font-size="16.0" font-style="italic" text-anchor="start" fill="#111111" stroke="#111111" stroke-width="0.35">ε</text>
<text x="137.6" y="497.4" font-size="11.2" font-style="italic" fill="#111111" stroke="#111111" stroke-width="0.35">k</text>
<text transform="translate(146.60,503.00) scale(1.0,1)" font-size="16.0" font-style="normal" text-anchor="start" fill="#111111" stroke="#111111" stroke-width="0.35">=</text>
<text transform="translate(163.80,503.00) scale(1.0,1)" font-size="16.0" font-style="normal" text-anchor="start" fill="#111111" stroke="#111111" stroke-width="0.35">0.039</text>
<text x="163.50" y="734.70" font-size="13.33" text-anchor="middle" font-weight="normal" fill="#111111" stroke="#111111" stroke-width="0.35" >ℜ[<tspan font-style="italic">ε</tspan><tspan font-style="italic" font-size="9.45" dy="1.4">i</tspan><tspan dy="-1.4">]</tspan></text>
<text transform="translate(11.5,604.35) rotate(-90)" font-size="13.33" text-anchor="middle" fill="#111111" stroke="#111111" stroke-width="0.35">ℑ[<tspan font-style="italic">ε</tspan><tspan font-style="italic" font-size="9.45" dy="1.4">i</tspan><tspan dy="-1.4">]</tspan></text>
<rect x="333.40" y="511.50" width="183.90" height="183.70" fill="#ffffff"/>
<line x1="370.40" y1="511.50" x2="370.40" y2="695.20" stroke="#b8b8b8" stroke-width="1" stroke-dasharray="1 1.65"/>
<line x1="425.80" y1="511.50" x2="425.80" y2="695.20" stroke="#b8b8b8" stroke-width="1" stroke-dasharray="1 1.65"/>
<line x1="481.20" y1="511.50" x2="481.20" y2="695.20" stroke="#b8b8b8" stroke-width="1" stroke-dasharray="1 1.65"/>
<line x1="333.40" y1="519.10" x2="517.30" y2="519.10" stroke="#b8b8b8" stroke-width="1" stroke-dasharray="1 1.65"/>
<line x1="333.40" y1="564.35" x2="517.30" y2="564.35" stroke="#b8b8b8" stroke-width="1" stroke-dasharray="1 1.65"/>
<line x1="333.40" y1="609.60" x2="517.30" y2="609.60" stroke="#b8b8b8" stroke-width="1" stroke-dasharray="1 1.65"/>
<line x1="333.40" y1="654.85" x2="517.30" y2="654.85" stroke="#b8b8b8" stroke-width="1" stroke-dasharray="1 1.65"/>
<clipPath id="cf"><rect x="333.4" y="511.5" width="183.89999999999998" height="183.70000000000005"/></clipPath><g clip-path="url(#cf)">
<circle cx="509.40" cy="536.40" r="3.85" fill="none" stroke="#444444" stroke-width="1.5"/>
<circle cx="342.20" cy="536.40" r="3.85" fill="none" stroke="#444444" stroke-width="1.5"/>
<circle cx="459.80" cy="557.00" r="3.85" fill="none" stroke="#444444" stroke-width="1.5"/>
<circle cx="391.80" cy="557.00" r="3.85" fill="none" stroke="#444444" stroke-width="1.5"/>
<circle cx="475.80" cy="561.20" r="3.85" fill="none" stroke="#444444" stroke-width="1.5"/>
<circle cx="375.80" cy="561.20" r="3.85" fill="none" stroke="#444444" stroke-width="1.5"/>
<circle cx="434.40" cy="563.70" r="3.85" fill="none" stroke="#444444" stroke-width="1.5"/>
<circle cx="417.20" cy="563.70" r="3.85" fill="none" stroke="#444444" stroke-width="1.5"/>
<circle cx="501.70" cy="575.20" r="3.85" fill="none" stroke="#444444" stroke-width="1.5"/>
<circle cx="349.90" cy="575.20" r="3.85" fill="none" stroke="#444444" stroke-width="1.5"/>
<circle cx="490.60" cy="579.10" r="3.85" fill="none" stroke="#444444" stroke-width="1.5"/>
<circle cx="361.00" cy="579.10" r="3.85" fill="none" stroke="#444444" stroke-width="1.5"/>
<circle cx="445.40" cy="595.00" r="3.85" fill="none" stroke="#444444" stroke-width="1.5"/>
<circle cx="406.20" cy="595.00" r="3.85" fill="none" stroke="#444444" stroke-width="1.5"/>
<circle cx="440.20" cy="611.90" r="3.85" fill="none" stroke="#444444" stroke-width="1.5"/>
<circle cx="411.40" cy="611.90" r="3.85" fill="none" stroke="#444444" stroke-width="1.5"/>
<circle cx="437.30" cy="614.40" r="3.85" fill="none" stroke="#444444" stroke-width="1.5"/>
<circle cx="414.30" cy="614.40" r="3.85" fill="none" stroke="#444444" stroke-width="1.5"/>
<circle cx="455.60" cy="612.90" r="3.85" fill="none" stroke="#444444" stroke-width="1.5"/>
<circle cx="396.00" cy="612.90" r="3.85" fill="none" stroke="#444444" stroke-width="1.5"/>
<circle cx="468.10" cy="612.50" r="3.85" fill="none" stroke="#444444" stroke-width="1.5"/>
<circle cx="383.50" cy="612.50" r="3.85" fill="none" stroke="#444444" stroke-width="1.5"/>
<circle cx="475.80" cy="613.80" r="3.85" fill="none" stroke="#444444" stroke-width="1.5"/>
<circle cx="375.80" cy="613.80" r="3.85" fill="none" stroke="#444444" stroke-width="1.5"/>
<circle cx="482.10" cy="619.20" r="3.85" fill="none" stroke="#444444" stroke-width="1.5"/>
<circle cx="369.50" cy="619.20" r="3.85" fill="none" stroke="#444444" stroke-width="1.5"/>
<circle cx="460.00" cy="624.60" r="3.85" fill="none" stroke="#444444" stroke-width="1.5"/>
<circle cx="391.60" cy="624.60" r="3.85" fill="none" stroke="#444444" stroke-width="1.5"/>
<circle cx="445.40" cy="628.50" r="3.85" fill="none" stroke="#444444" stroke-width="1.5"/>
<circle cx="406.20" cy="628.50" r="3.85" fill="none" stroke="#444444" stroke-width="1.5"/>
<circle cx="440.80" cy="633.70" r="3.85" fill="none" stroke="#444444" stroke-width="1.5"/>
<circle cx="410.80" cy="633.70" r="3.85" fill="none" stroke="#444444" stroke-width="1.5"/>
<circle cx="452.30" cy="636.20" r="3.85" fill="none" stroke="#444444" stroke-width="1.5"/>
<circle cx="399.30" cy="636.20" r="3.85" fill="none" stroke="#444444" stroke-width="1.5"/>
<circle cx="490.60" cy="641.00" r="3.85" fill="none" stroke="#444444" stroke-width="1.5"/>
<circle cx="361.00" cy="641.00" r="3.85" fill="none" stroke="#444444" stroke-width="1.5"/>
<circle cx="433.50" cy="650.40" r="3.85" fill="none" stroke="#444444" stroke-width="1.5"/>
<circle cx="418.10" cy="650.40" r="3.85" fill="none" stroke="#444444" stroke-width="1.5"/>
<circle cx="502.30" cy="650.00" r="3.85" fill="none" stroke="#444444" stroke-width="1.5"/>
<circle cx="349.30" cy="650.00" r="3.85" fill="none" stroke="#444444" stroke-width="1.5"/>
<circle cx="452.70" cy="655.20" r="3.85" fill="none" stroke="#444444" stroke-width="1.5"/>
<circle cx="398.90" cy="655.20" r="3.85" fill="none" stroke="#444444" stroke-width="1.5"/>
<circle cx="470.40" cy="656.20" r="3.85" fill="none" stroke="#444444" stroke-width="1.5"/>
<circle cx="381.20" cy="656.20" r="3.85" fill="none" stroke="#444444" stroke-width="1.5"/>
<circle cx="456.00" cy="660.40" r="3.85" fill="none" stroke="#444444" stroke-width="1.5"/>
<circle cx="395.60" cy="660.40" r="3.85" fill="none" stroke="#444444" stroke-width="1.5"/>
<circle cx="494.40" cy="660.60" r="3.85" fill="none" stroke="#444444" stroke-width="1.5"/>
<circle cx="357.20" cy="660.60" r="3.85" fill="none" stroke="#444444" stroke-width="1.5"/>
<circle cx="440.60" cy="666.00" r="3.85" fill="none" stroke="#444444" stroke-width="1.5"/>
<circle cx="411.00" cy="666.00" r="3.85" fill="none" stroke="#444444" stroke-width="1.5"/>
<circle cx="437.70" cy="672.70" r="3.85" fill="none" stroke="#444444" stroke-width="1.5"/>
<circle cx="413.90" cy="672.70" r="3.85" fill="none" stroke="#444444" stroke-width="1.5"/>
<circle cx="482.50" cy="672.70" r="3.85" fill="none" stroke="#444444" stroke-width="1.5"/>
<circle cx="369.10" cy="672.70" r="3.85" fill="none" stroke="#444444" stroke-width="1.5"/>
<circle cx="468.10" cy="676.30" r="3.85" fill="none" stroke="#444444" stroke-width="1.5"/>
<circle cx="383.50" cy="676.30" r="3.85" fill="none" stroke="#444444" stroke-width="1.5"/>
<circle cx="425.80" cy="610.00" r="3.85" fill="none" stroke="#444444" stroke-width="1.5"/>
<circle cx="425.80" cy="660.00" r="3.85" fill="none" stroke="#444444" stroke-width="1.5"/>
<path d="M425.80 679.70 L428.90 685.30 L425.80 690.90 L422.70 685.30 Z" fill="none" stroke="#444444" stroke-width="1.4" stroke-linejoin="miter"/>
<path d="M425.80 681.40 L428.90 687.00 L425.80 692.60 L422.70 687.00 Z" fill="none" stroke="#444444" stroke-width="1.4" stroke-linejoin="miter"/>
<circle cx="425.45" cy="520.00" r="3.85" fill="none" stroke="#44649a" stroke-width="1.5"/>
<circle cx="426.15" cy="520.00" r="3.85" fill="none" stroke="#44649a" stroke-width="1.5"/>
</g>
<rect x="424.40" y="516.8" width="2.8" height="11.2" fill="none" stroke="#737373" stroke-width="1"/>
<line x1="343.4" y1="520.4" x2="424.40" y2="516.8" stroke="#737373" stroke-width="1.4"/>
<line x1="398.6" y1="575.2" x2="427.20" y2="528.0" stroke="#737373" stroke-width="1.4"/>
<rect x="343.40" y="520.40" width="55.20" height="54.80" fill="#ffffff" stroke="none"/>
<line x1="370.60" y1="520.40" x2="370.60" y2="575.20" stroke="#d4d4d4" stroke-width="1" stroke-dasharray="1 1.65"/>
<line x1="343.40" y1="533.50" x2="398.60" y2="533.50" stroke="#d4d4d4" stroke-width="1" stroke-dasharray="1 1.65"/>
<circle cx="364.50" cy="536.40" r="3.85" fill="none" stroke="#44649a" stroke-width="1.5"/>
<circle cx="376.80" cy="536.40" r="3.85" fill="none" stroke="#44649a" stroke-width="1.5"/>
<rect x="343.40" y="520.40" width="55.20" height="54.80" fill="none" stroke="#111111" stroke-width="1.35"/>
<rect x="333.40" y="511.50" width="183.90" height="183.70" fill="none" stroke="#111111" stroke-width="1.35"/>
<line x1="370.40" y1="695.20" x2="370.40" y2="699.60" stroke="#111111" stroke-width="1.35"/>
<text x="370.40" y="714.80" font-size="13.33" text-anchor="middle" font-weight="normal" fill="#111111" stroke="#111111" stroke-width="0.35" >−2.5</text>
<line x1="425.80" y1="695.20" x2="425.80" y2="699.60" stroke="#111111" stroke-width="1.35"/>
<text x="425.80" y="714.80" font-size="13.33" text-anchor="middle" font-weight="normal" fill="#111111" stroke="#111111" stroke-width="0.35" >0.0</text>
<line x1="481.20" y1="695.20" x2="481.20" y2="699.60" stroke="#111111" stroke-width="1.35"/>
<text x="481.20" y="714.80" font-size="13.33" text-anchor="middle" font-weight="normal" fill="#111111" stroke="#111111" stroke-width="0.35" >2.5</text>
<line x1="333.40" y1="519.10" x2="329.00" y2="519.10" stroke="#111111" stroke-width="1.35"/>
<text x="324.00" y="524.40" font-size="13.33" text-anchor="end" font-weight="normal" fill="#111111" stroke="#111111" stroke-width="0.35" >0.00</text>
<line x1="333.40" y1="564.35" x2="329.00" y2="564.35" stroke="#111111" stroke-width="1.35"/>
<text x="324.00" y="569.65" font-size="13.33" text-anchor="end" font-weight="normal" fill="#111111" stroke="#111111" stroke-width="0.35" >−0.05</text>
<line x1="333.40" y1="609.60" x2="329.00" y2="609.60" stroke="#111111" stroke-width="1.35"/>
<text x="324.00" y="614.90" font-size="13.33" text-anchor="end" font-weight="normal" fill="#111111" stroke="#111111" stroke-width="0.35" >−0.10</text>
<line x1="333.40" y1="654.85" x2="329.00" y2="654.85" stroke="#111111" stroke-width="1.35"/>
<text x="324.00" y="660.15" font-size="13.33" text-anchor="end" font-weight="normal" fill="#111111" stroke="#111111" stroke-width="0.35" >−0.15</text>
<text x="511.80" y="527.40" font-size="15.2" text-anchor="end" font-weight="bold" fill="#111111" stroke="#111111" stroke-width="0.35" >f)</text>
<text transform="translate(375.60,503.00) scale(1.0,1)" font-size="16.0" font-style="normal" text-anchor="start" fill="#111111" stroke="#111111" stroke-width="0.35">Δ</text>
<text transform="translate(386.80,503.00) scale(1.0,1)" font-size="16.0" font-style="italic" text-anchor="start" fill="#111111" stroke="#111111" stroke-width="0.35">ε</text>
<text x="396.3" y="497.4" font-size="11.2" font-style="italic" fill="#111111" stroke="#111111" stroke-width="0.35">k</text>
<text transform="translate(405.70,503.00) scale(1.0,1)" font-size="16.0" font-style="normal" text-anchor="start" fill="#111111" stroke="#111111" stroke-width="0.35">=</text>
<text transform="translate(424.20,503.00) scale(1.0,1)" font-size="16.0" font-style="normal" text-anchor="start" fill="#111111" stroke="#111111" stroke-width="0.35">−</text>
<text transform="translate(441.00,503.00) scale(1.0,1)" font-size="16.0" font-style="normal" text-anchor="start" fill="#111111" stroke="#111111" stroke-width="0.35">0.18</text>
<text x="425.80" y="734.70" font-size="13.33" text-anchor="middle" font-weight="normal" fill="#111111" stroke="#111111" stroke-width="0.35" >ℜ[<tspan font-style="italic">ε</tspan><tspan font-style="italic" font-size="9.45" dy="1.4">i</tspan><tspan dy="-1.4">]</tspan></text>
</svg>
</body></html>
